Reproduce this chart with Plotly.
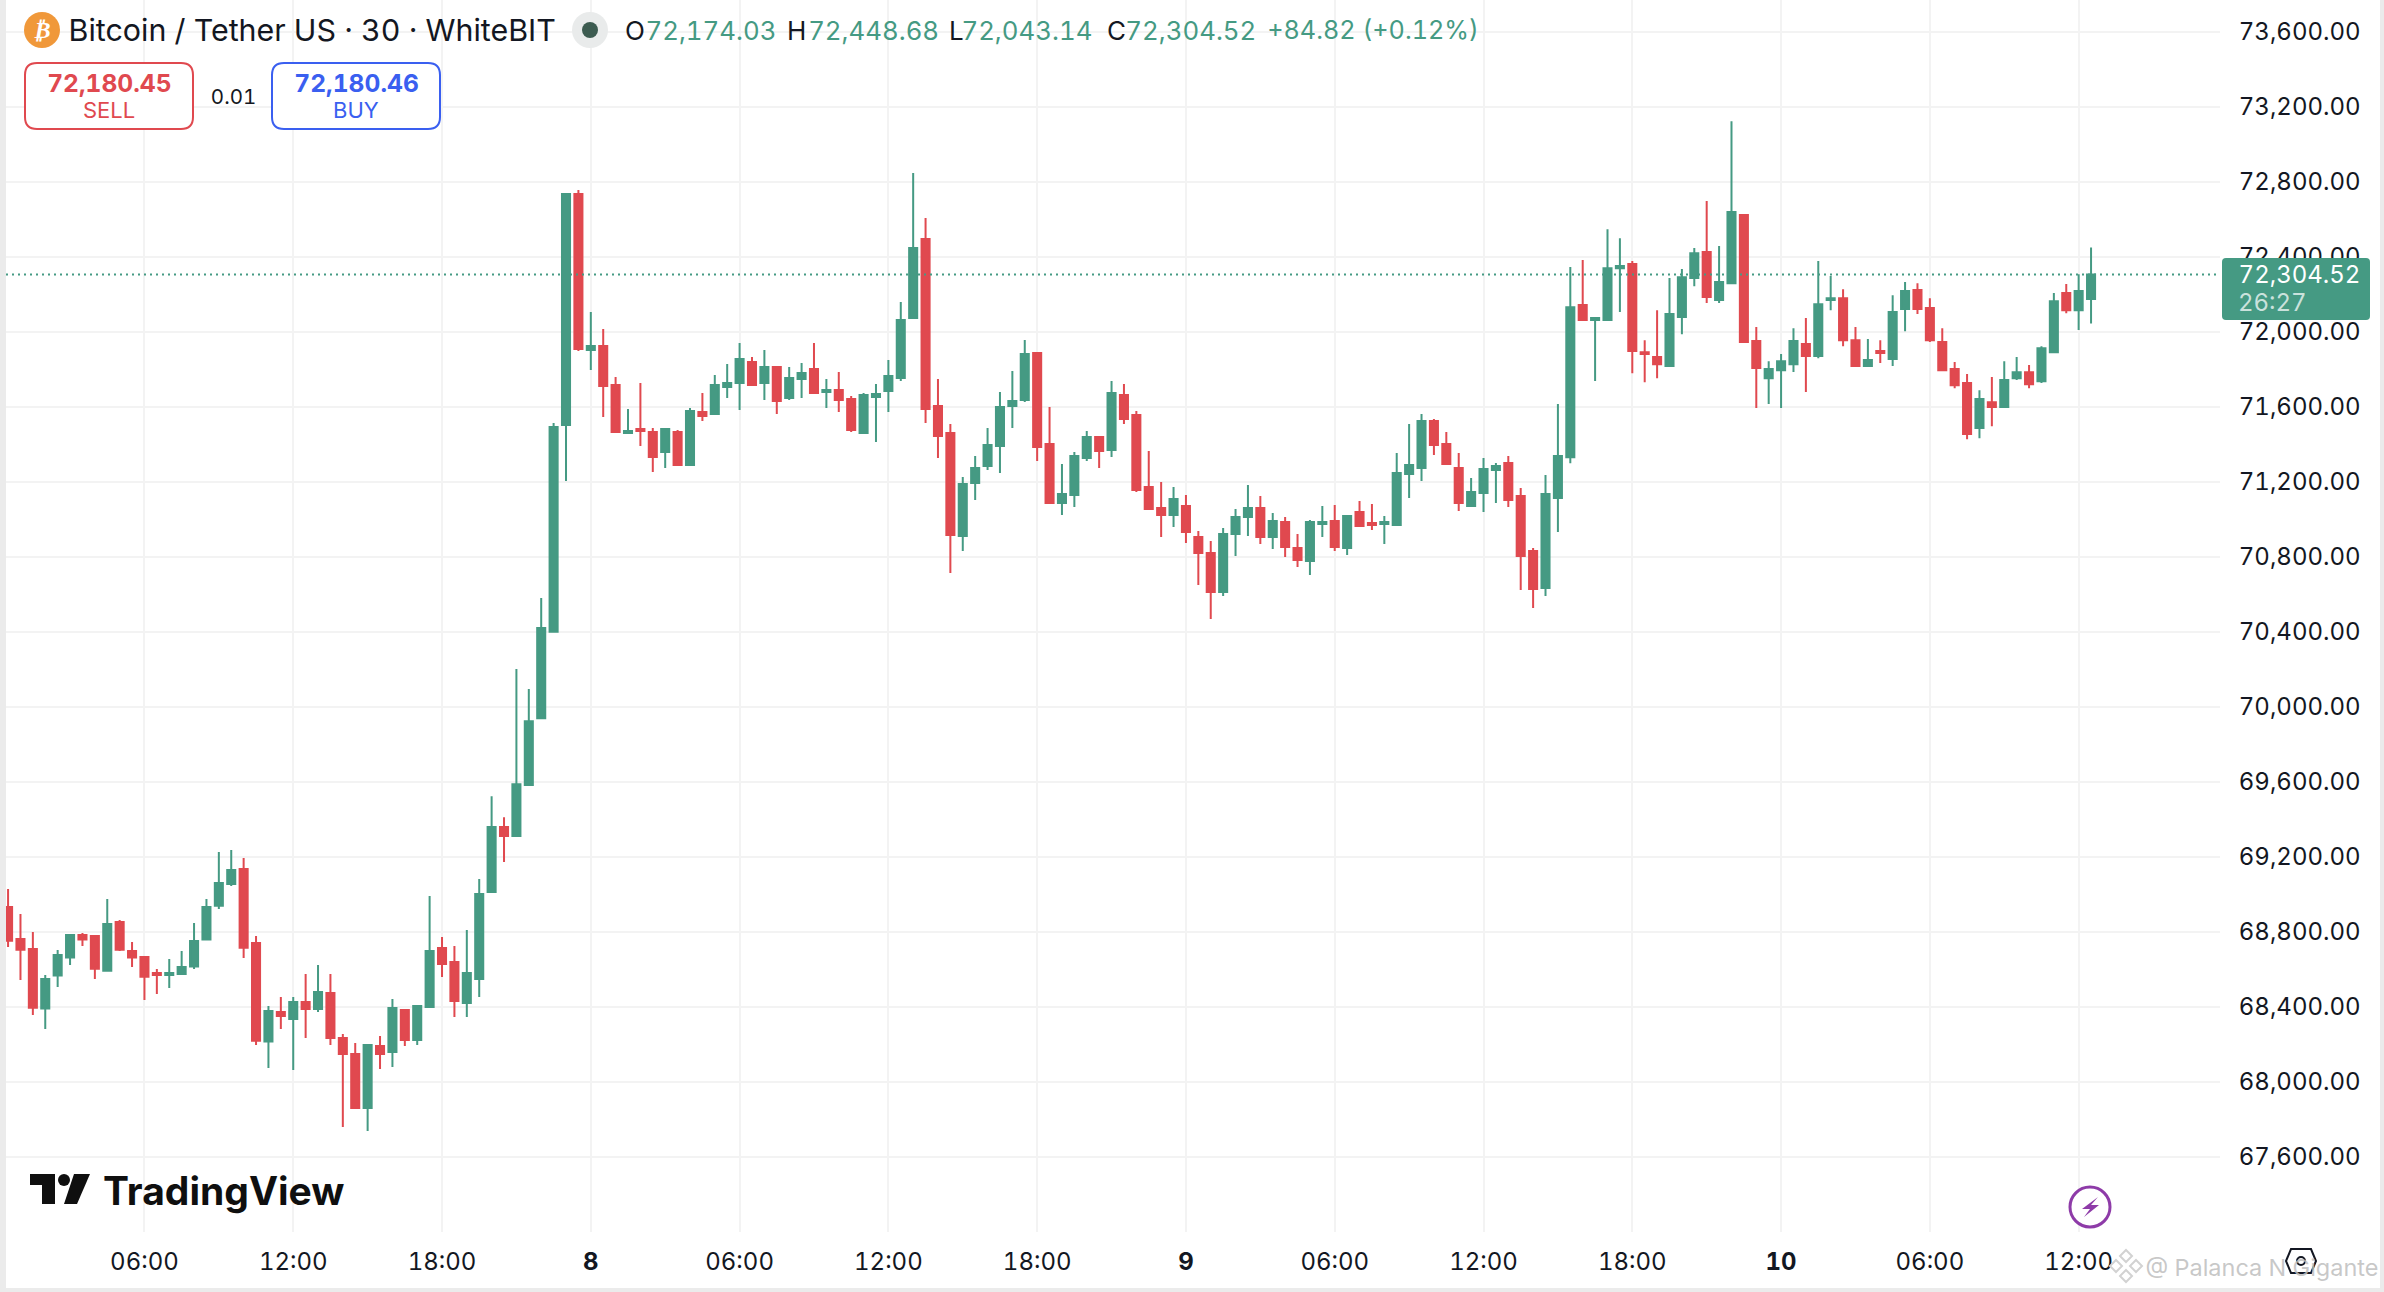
import pandas as pd
import plotly.graph_objects as go

# 30 minute BTC/USDT candles
opens = [
    68932, 68761, 68708, 68390, 68566, 68662, 68783, 68777, 68592, 68852, 68697, 68665, 68580,
    68569, 68575, 68614, 68758, 68939, 69055, 69135, 68740, 68214, 68372, 68335, 68425, 68388,
    68473, 68233, 68148, 67860, 68191, 68159, 68383, 68223, 68399, 68713, 68639, 68420, 68548,
    69012, 69358, 69310, 69582, 69939, 70400, 71503, 72735, 71903, 71924, 71716, 71460, 71481,
    71465, 71358, 71465, 71289, 71572, 71561, 71705, 71727, 71839, 71727, 71812, 71647, 71748,
    71801, 71679, 71689, 71641, 71460, 71652, 71684, 71753, 72073, 72495, 71604, 71460, 70910,
    71193, 71284, 71390, 71604, 71636, 71887, 71401, 71086, 71129, 71326, 71438, 71369, 71663,
    71556, 71172, 71060, 71022, 71070, 70905, 70820, 70612, 70921, 71012, 71060, 70905, 70985,
    70846, 70777, 70974, 70990, 70846, 71038, 70980, 70974, 70969, 71241, 71273, 71524, 71401,
    71273, 71070, 71140, 71262, 71300, 71124, 70830, 70633, 71113, 71331, 72142, 72062, 72062,
    72339, 72361, 71891, 71865, 71817, 72078, 72286, 72425, 72169, 72259, 72622, 71950, 71752,
    71795, 71827, 71934, 71870, 72169, 72179, 71955, 71817, 71897, 71854, 72121, 72222, 72126,
    71945, 71801, 71726, 71486, 71624, 71598, 71752, 71784, 71736, 71891, 72206, 72115, 72174.03,
]
highs = [
    69028, 68895, 68799, 68569, 68703, 68783, 68793, 68777, 68975, 68863, 68745, 68665, 68601,
    68655, 68697, 68847, 68975, 69225, 69236, 69193, 68777, 68404, 68452, 68452, 68575, 68623,
    68575, 68255, 68207, 68196, 68244, 68441, 68388, 68404, 68991, 68772, 68724, 68809, 69081,
    69523, 69411, 70201, 70094, 70580, 71513, 72735, 72756, 72105, 72015, 71759, 71588, 71727,
    71486, 71486, 71476, 71593, 71673, 71769, 71828, 71940, 71865, 71903, 71812, 71812, 71833,
    71940, 71748, 71785, 71657, 71673, 71721, 71849, 72159, 72847, 72607, 71748, 71508, 71225,
    71337, 71486, 71679, 71791, 71956, 71887, 71599, 71294, 71358, 71470, 71444, 71737, 71721,
    71577, 71364, 71199, 71172, 71129, 70937, 70884, 70953, 71054, 71182, 71124, 71033, 71012,
    70921, 70996, 71070, 71076, 71017, 71097, 71081, 71017, 71353, 71508, 71561, 71534, 71465,
    71353, 71220, 71326, 71300, 71337, 71166, 70846, 71236, 71615, 72345, 72382, 72073, 72547,
    72499, 72377, 71955, 72115, 72286, 72334, 72446, 72697, 72457, 73123, 72627, 72025, 71843,
    71881, 72019, 72073, 72377, 72297, 72227, 72025, 71961, 71955, 72195, 72265, 72259, 72179,
    72019, 71838, 71774, 71688, 71758, 71843, 71865, 71822, 71923, 72206, 72254, 72307, 72448.68,
]
lows = [
    68719, 68543, 68356, 68281, 68505, 68623, 68724, 68548, 68592, 68697, 68612, 68436, 68468,
    68500, 68575, 68601, 68758, 68921, 69044, 68660, 68196, 68073, 68281, 68062, 68233, 68372,
    68196, 67758, 67860, 67737, 68068, 68079, 68191, 68196, 68399, 68559, 68345, 68345, 68452,
    69012, 69172, 69305, 69582, 69939, 70400, 71204, 71897, 71796, 71545, 71460, 71460, 71390,
    71252, 71273, 71284, 71284, 71524, 71556, 71647, 71582, 71716, 71636, 71561, 71636, 71647,
    71673, 71593, 71572, 71465, 71454, 71412, 71572, 71737, 72068, 71513, 71327, 70713, 70830,
    71102, 71262, 71247, 71486, 71625, 71310, 71086, 71022, 71065, 71310, 71273, 71332, 71508,
    71145, 71054, 70905, 70958, 70873, 70649, 70468, 70590, 70804, 70910, 70868, 70841, 70798,
    70745, 70702, 70905, 70830, 70809, 70964, 70942, 70868, 70969, 71113, 71204, 71342, 71289,
    71044, 71070, 71038, 71086, 71065, 70622, 70526, 70590, 70932, 71299, 72062, 71737, 72062,
    72105, 71779, 71731, 71752, 71817, 71987, 72243, 72153, 72153, 72259, 71945, 71593, 71614,
    71593, 71785, 71678, 71859, 72115, 71923, 71817, 71817, 71833, 71817, 72003, 72094, 71945,
    71790, 71699, 71427, 71432, 71496, 71593, 71742, 71699, 71726, 71891, 72099, 72009, 72043.14,
]
closes = [
    68752, 68704, 68395, 68548, 68676, 68783, 68758, 68603, 68841, 68704, 68662, 68560, 68569,
    68580, 68612, 68751, 68932, 69060, 69129, 68715, 68219, 68377, 68351, 68425, 68388, 68479,
    68233, 68148, 67860, 68196, 68148, 68393, 68223, 68404, 68697, 68628, 68431, 68580, 69001,
    69358, 69310, 69587, 69923, 70420, 71492, 72735, 71908, 71924, 71711, 71465, 71470, 71470,
    71332, 71481, 71289, 71577, 71550, 71716, 71727, 71855, 71716, 71812, 71631, 71753, 71780,
    71673, 71689, 71636, 71476, 71663, 71668, 71764, 72063, 72447, 71588, 71444, 70916, 71188,
    71273, 71396, 71599, 71631, 71881, 71385, 71086, 71134, 71337, 71438, 71364, 71673, 71535,
    71156, 71054, 71022, 71108, 70932, 70820, 70612, 70921, 71012, 71060, 70905, 70990, 70852,
    70782, 70985, 70985, 70852, 71017, 70964, 70969, 70985, 71246, 71289, 71524, 71396, 71294,
    71086, 71145, 71268, 71284, 71102, 70804, 70628, 71134, 71337, 72131, 72062, 72073, 72339,
    72350, 71897, 71881, 71827, 72094, 72291, 72419, 72185, 72265, 72638, 71945, 71806, 71801,
    71843, 71950, 71870, 72147, 72179, 71955, 71817, 71849, 71886, 72105, 72217, 72121, 71955,
    71795, 71715, 71454, 71641, 71598, 71742, 71784, 71720, 71912, 72163, 72115, 72217, 72304.52,
]

x_tick_dates = [
    "2026-04-07 06:00", "2026-04-07 12:00", "2026-04-07 18:00", "2026-04-08 00:00",
    "2026-04-08 06:00", "2026-04-08 12:00", "2026-04-08 18:00", "2026-04-09 00:00",
    "2026-04-09 06:00", "2026-04-09 12:00", "2026-04-09 18:00", "2026-04-10 00:00",
    "2026-04-10 06:00", "2026-04-10 12:00",
]
x_tick_labels = [
    "06:00", "12:00", "18:00", "<b>8</b>", "06:00", "12:00", "18:00", "<b>9</b>",
    "06:00", "12:00", "18:00", "<b>10</b>", "06:00", "12:00",
]
y_ticks = list(range(67600, 73601, 400))

W, H = 2384, 1292
GREEN = "#459A83"
RED = "#E0494F"
BLUE = "#3A5FF0"
INK = "#131722"
FONT = "Inter"


def fx(x):
    return x / W


def fy(y):
    return 1 - y / H


def box_path(x0, y0, x1, y1, r):
    return (
        f"M {fx(x0 + r)} {fy(y0)} L {fx(x1 - r)} {fy(y0)} Q {fx(x1)} {fy(y0)} {fx(x1)} {fy(y0 + r)} "
        f"L {fx(x1)} {fy(y1 - r)} Q {fx(x1)} {fy(y1)} {fx(x1 - r)} {fy(y1)} "
        f"L {fx(x0 + r)} {fy(y1)} Q {fx(x0)} {fy(y1)} {fx(x0)} {fy(y1 - r)} "
        f"L {fx(x0)} {fy(y0 + r)} Q {fx(x0)} {fy(y0)} {fx(x0 + r)} {fy(y0)} Z"
    )


def poly_path(points):
    return "M " + " L ".join(f"{fx(x)} {fy(y)}" for x, y in points) + " Z"


def shape(fig, path, fill=None, line=None, width=0):
    fig.add_shape(
        type="path",
        xref="paper",
        yref="paper",
        path=path,
        fillcolor=fill or "rgba(0,0,0,0)",
        line=dict(color=line or "rgba(0,0,0,0)", width=width),
    )


def circle(fig, cx, cy, r, fill=None, line=None, width=0):
    fig.add_shape(
        type="circle",
        xref="paper",
        yref="paper",
        x0=fx(cx - r),
        x1=fx(cx + r),
        y0=fy(cy + r),
        y1=fy(cy - r),
        fillcolor=fill or "rgba(0,0,0,0)",
        line=dict(color=line or "rgba(0,0,0,0)", width=width),
    )


def label(fig, x, y, text, size, color=INK, anchor="left", family=FONT):
    fig.add_annotation(
        xref="paper",
        yref="paper",
        x=fx(x),
        y=fy(y),
        text=text,
        showarrow=False,
        xanchor=anchor,
        yanchor="middle",
        borderpad=0,
        borderwidth=0,
        font=dict(family=family, size=size, color=color),
    )


times = pd.date_range("2026-04-07 00:30", periods=len(opens), freq="30min")

fig = go.Figure()
fig.add_trace(
    go.Candlestick(
        x=times,
        open=opens,
        high=highs,
        low=lows,
        close=closes,
        increasing=dict(line=dict(color=GREEN, width=2), fillcolor=GREEN),
        decreasing=dict(line=dict(color=RED, width=2), fillcolor=RED),
        showlegend=False,
        hoverinfo="skip",
    )
)
fig.add_hline(y=closes[-1], line=dict(color=GREEN, width=2, dash="2px,4px"))

fig.update_layout(
    width=W,
    height=H,
    paper_bgcolor="white",
    plot_bgcolor="white",
    margin=dict(l=0, r=0, t=0, b=0),
    boxgap=0.35,
    boxgroupgap=0,
    font=dict(family=FONT, color=INK, size=24),
)
fig.update_xaxes(
    domain=[fx(6), fx(2220)],
    range=["2026-04-07 00:25", "2026-04-10 17:42"],
    rangeslider_visible=False,
    tickmode="array",
    tickvals=x_tick_dates,
    ticktext=x_tick_labels,
    showgrid=True,
    gridcolor="#F3F3F3",
    gridwidth=2,
    zeroline=False,
    showline=False,
    ticks="outside",
    ticklen=8,
    tickcolor="rgba(0,0,0,0)",
    tickfont=dict(family=FONT, size=24, color=INK),
)
fig.update_yaxes(
    domain=[fy(1232), 1],
    range=[67198.4, 73769],
    side="right",
    tickmode="array",
    tickvals=y_ticks,
    ticktext=[f"{v:,.2f}" for v in y_ticks],
    showgrid=True,
    gridcolor="#F3F3F3",
    gridwidth=2,
    zeroline=False,
    showline=False,
    ticks="outside",
    ticklen=13,
    tickcolor="rgba(0,0,0,0)",
    tickfont=dict(family=FONT, size=24, color=INK),
)

# window frame
fig.add_shape(type="rect", xref="paper", yref="paper", x0=0, x1=fx(6), y0=0, y1=1,
              fillcolor="#EBEBEB", line_width=0)
fig.add_shape(type="rect", xref="paper", yref="paper", x0=fx(2380), x1=1, y0=0, y1=1,
              fillcolor="#EBEBEB", line_width=0)
fig.add_shape(type="rect", xref="paper", yref="paper", x0=0, x1=1, y0=0, y1=fy(1288),
              fillcolor="#EBEBEB", line_width=0)

# symbol row
circle(fig, 42, 30, 18, fill="#F0983A")
label(fig, 42, 30, "<b><i>₿</i></b>", 24, "white", "center", "DejaVu Sans")
label(fig, 68, 30, "Bitcoin / Tether US · 30 · WhiteBIT", 30.4)
circle(fig, 590, 30, 18, fill="#E9EBEB")
circle(fig, 590, 30, 8, fill="#3C5B50")
for x, letter in [(625, "O"), (787, "H"), (949, "L"), (1107, "C")]:
    label(fig, x, 30, letter, 26)
for x, value in [(711, "72,174.03"), (873, "72,448.68"), (1027, "72,043.14"), (1191, "72,304.52")]:
    label(fig, x, 30, value, 25.8, GREEN, "center")
label(fig, 1373, 30, "+84.82 (+0.12%)", 25.2, GREEN, "center")

# sell / buy buttons
shape(fig, box_path(25, 63, 193, 129, 12), fill="white", line=RED, width=2)
shape(fig, box_path(272, 63, 440, 129, 12), fill="white", line=BLUE, width=2)
label(fig, 109, 83, "<b>72,180.45</b>", 24.6, RED, "center")
label(fig, 109, 110, "SELL", 22, RED, "center")
label(fig, 233, 97, "0.01", 20.5, INK, "center")
label(fig, 356, 83, "<b>72,180.46</b>", 24.6, BLUE, "center")
label(fig, 356, 110, "BUY", 22, BLUE, "center")

# last price tag, drawn over the axis labels
shape(fig, box_path(2222, 258, 2370, 320, 4), fill=GREEN)
label(fig, 2299, 274, "72,304.52", 24, "white", "center")
label(fig, 2272, 302, "26:27", 24, "rgba(255,255,255,0.72)", "center")

# TradingView logo
logo = "#0F0F0F"
shape(fig, poly_path([(30, 1174), (55, 1174), (55, 1204), (42, 1204), (42, 1185), (30, 1185)]), fill=logo)
circle(fig, 64, 1180, 6, fill=logo)
shape(fig, poly_path([(74, 1174), (90, 1174), (77, 1204), (64, 1204)]), fill=logo)
label(fig, 103, 1190, "<b>TradingView</b>", 39, logo)

# lightning badge
purple = "#8E3BA8"
circle(fig, 2090, 1207, 20, fill="white", line=purple, width=3)
shape(fig, poly_path([(2098, 1197), (2082, 1209), (2090, 1209), (2084, 1217), (2099, 1205), (2091, 1205)]),
      fill=purple)

# settings hexagon
shape(fig, poly_path([(2291, 1249), (2311, 1249), (2316, 1261), (2311, 1273), (2291, 1273), (2286, 1261)]),
      line="#131722", width=2)
circle(fig, 2301, 1261, 4, line="#131722", width=2)

# watermark
wm = "#D2D2D2"
for cx, cy in [(2126, 1256), (2116, 1266), (2136, 1266), (2126, 1276)]:
    shape(fig, poly_path([(cx, cy - 6), (cx + 6, cy), (cx, cy + 6), (cx - 6, cy)]), line=wm, width=2)
label(fig, 2145, 1267, "@ Palanca N Gigante", 23.5, "rgba(190,190,190,0.85)")

fig.write_html(
    "out.html",
    config=dict(displayModeBar=False),
    post_script="document.body.style.margin = '0'; document.body.style.fontFeatureSettings = \"'tnum'\";",
)
